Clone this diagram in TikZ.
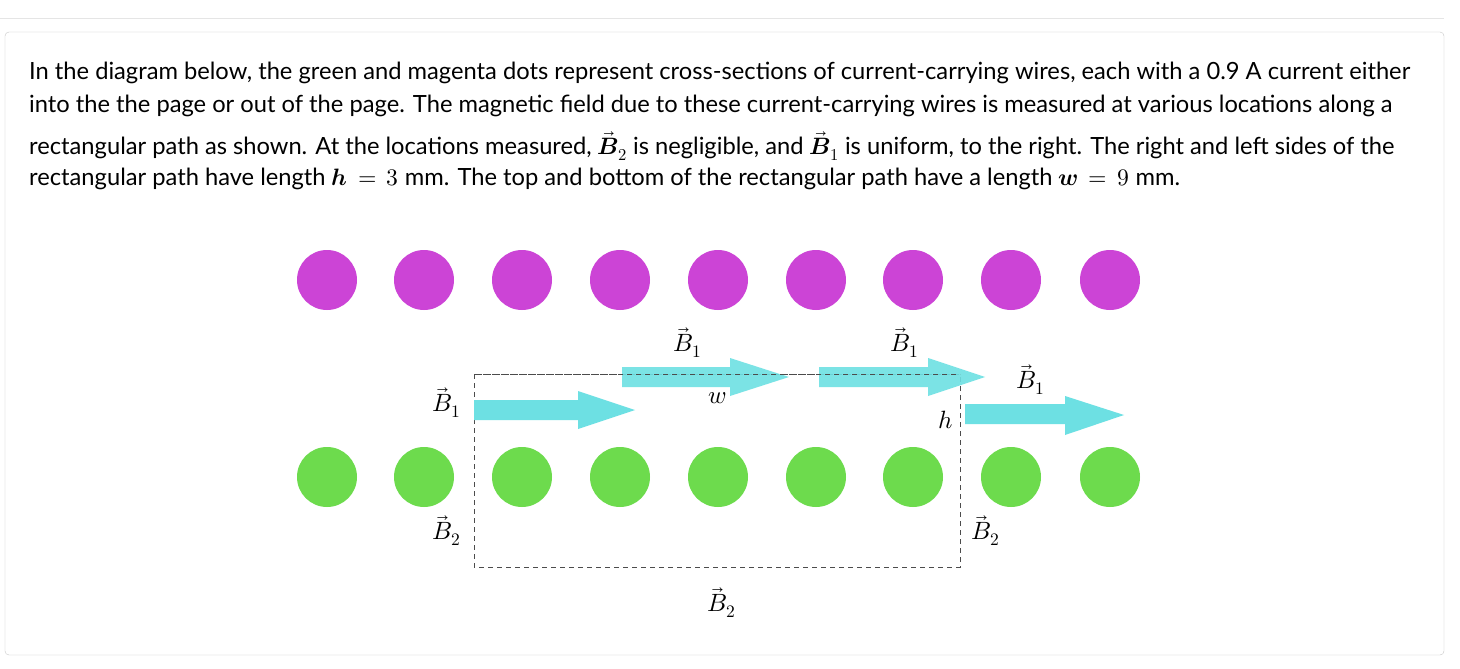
\documentclass[tikz,border=0pt]{standalone}
\usepackage{fontspec}
\setmainfont{Lato}
\usepackage{unicode-math}
\setmathfont{Latin Modern Math}
\begin{document}
\begin{tikzpicture}[x=1pt,y=-1pt,
  mag/.style={fill=magdot,draw=none},
  grn/.style={fill=grndot,draw=none},
  bfield/.style={fill=cyanarr,draw=none},
  lbl/.style={font=\fontsize{25}{25}\selectfont},
  txt/.style={anchor=west,font=\fontsize{23.7}{24}\selectfont,inner sep=0pt}]
\definecolor{magdot}{HTML}{CC44D6}
\definecolor{grndot}{HTML}{6DDB4D}
\definecolor{cyanarr}{HTML}{6DE0E3}
\useasboundingbox (0,0) rectangle (1460,669);
\fill[white] (0,0) rectangle (1460,669);
\draw[black!10] (0,18) -- (1444,18);
\draw[black!22,rounded corners=4] (5,32) rectangle (1444,655);
\node[txt] (t1) at (29,73) {In the diagram below, the green and magenta dots represent cross-sections of current-carrying wires, each with a 0.9 A current either};
\node[txt] (t2) at (29,106) {into the the page or out of the page. The magnetic field due to these current-carrying wires is measured at various locations along a};
\node[txt] (t3) at (29,146) {rectangular path as shown. At the locations measured, $\vec{\symbfit{B}}_2$ is negligible, and $\vec{\symbfit{B}}_1$ is uniform, to the right. The right and left sides of the};
\node[txt] (t4) at (29,179) {rectangular path have length $\symbfit{h}\,=\,3$ mm. The top and bottom of the rectangular path have a length $\symbfit{w}\,=\,9$ mm.};
\foreach \i/\x in {1/327,2/424,3/522,4/620,5/718,6/816,7/913,8/1011,9/1110}{
  \fill[mag] (\x,280) circle (30);
  \fill[grn] (\x,477) circle (30);
}
\coordinate (r1) at (474,374); \coordinate (r2) at (960,567);
\draw[dashed,black!70,dash pattern=on 5pt off 4pt] (r1) rectangle (r2);
\fill[bfield] (474,400) -- (578,400) -- (578,391) -- (635,410) -- (578,429) -- (578,420) -- (474,420) -- cycle;
\fill[bfield,opacity=0.9] (622,367) -- (730,367) -- (730,358) -- (789,377) -- (730,396) -- (730,387) -- (622,387) -- cycle;
\fill[bfield,opacity=0.9] (819,367) -- (928,367) -- (928,358) -- (985,377) -- (928,396) -- (928,387) -- (819,387) -- cycle;
\fill[bfield] (965,404) -- (1065,404) -- (1065,396) -- (1124,415) -- (1065,435) -- (1065,424) -- (965,424) -- cycle;
\draw[dashed,black!70,dash pattern=on 5pt off 4pt] (474,374) -- (960,374);
\node[lbl] (l1) at (447,403) {$\vec{B}_1$};
\node[lbl] (l2) at (688,343) {$\vec{B}_1$};
\node[lbl] (l3) at (905,343) {$\vec{B}_1$};
\node[lbl] (l4) at (1031,380) {$\vec{B}_1$};
\node[lbl] (lw) at (717,398) {$w$};
\node[lbl] (lh) at (946,420) {$h$};
\node[lbl] (l5) at (447,531) {$\vec{B}_2$};
\node[lbl] (l6) at (986,531) {$\vec{B}_2$};
\node[lbl] (l7) at (722,603) {$\vec{B}_2$};
\end{tikzpicture}
\end{document}
